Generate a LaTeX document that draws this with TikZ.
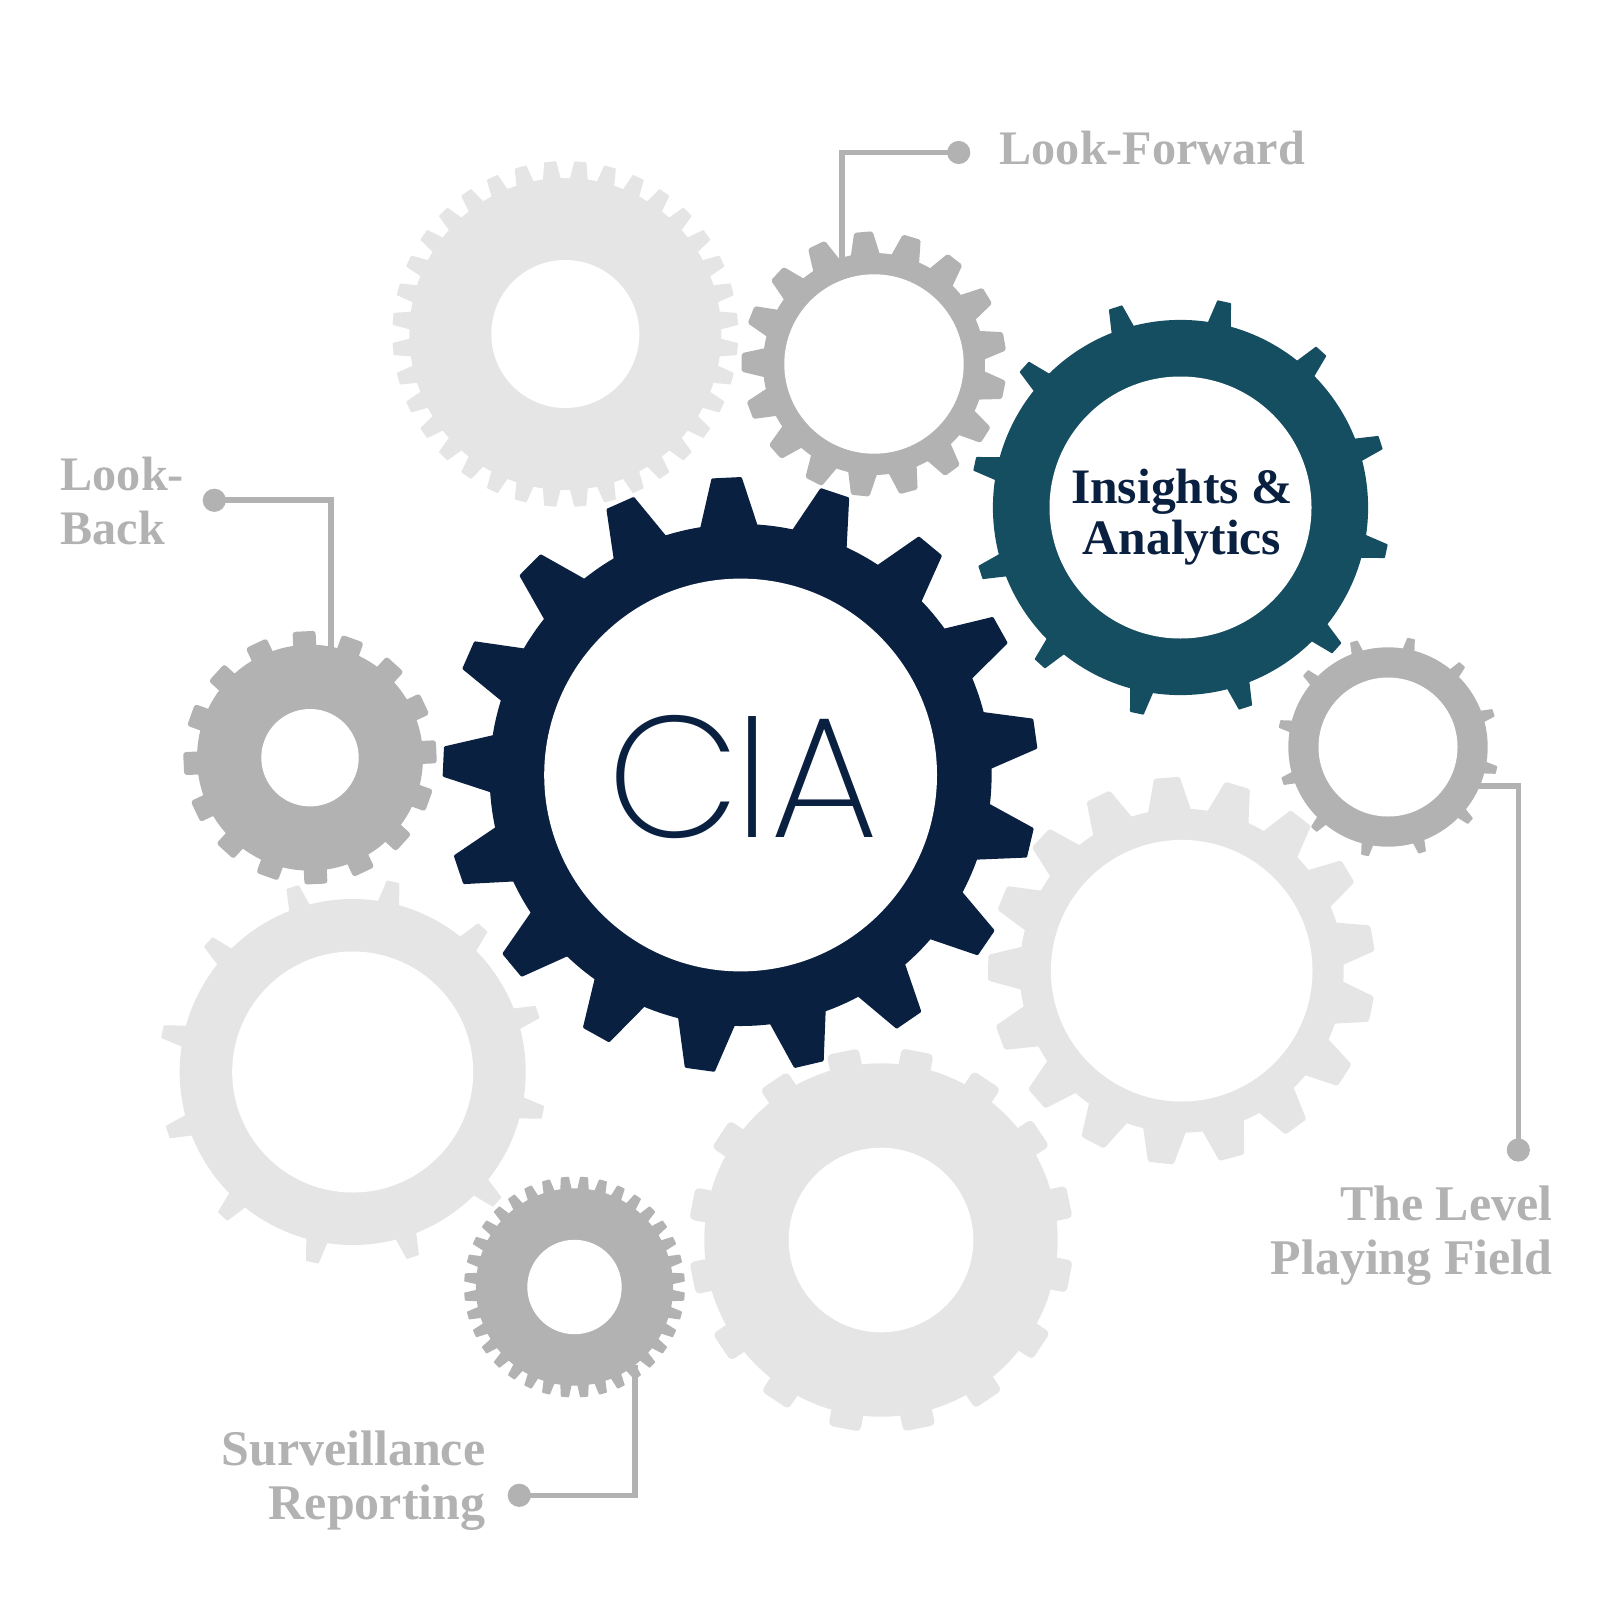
\documentclass[tikz,border=0pt]{standalone}
\usepackage{fontspec}
\setmainfont{Liberation Serif}
\newfontfamily\ciafont[UprightFont=* ExtraLight]{Poppins}
\definecolor{navygear}{HTML}{0A2041}
\definecolor{tealgear}{HTML}{154E60}
\definecolor{midgear}{HTML}{B2B2B2}
\definecolor{lightgear}{HTML}{E5E5E5}
\tikzset{
  hole/.style={circle, fill=white, inner sep=0pt},
  lab/.style={font=\fontsize{13.7}{15.3}\selectfont\bfseries, text=midgear, inner sep=0pt},
  labwide/.style={lab, font=\fontsize{14.2}{15.3}\selectfont\bfseries},
  dot/.style={circle, fill=midgear, inner sep=0pt, outer sep=0pt, minimum size=6.6pt},
  lead/.style={draw=midgear, line width=1.6pt, shorten <=-1pt}
}
\begin{document}
\begin{tikzpicture}[x=0.01cm, y=-0.01cm]
    \useasboundingbox (0,0) rectangle (1600,1600);

    % name/x/y/hole/root/tip/teeth/angle/base half/tip half/corner/colour
    \foreach \gname/\cx/\cy/\rhole/\rroot/\rtip/\nt/\rot/\bh/\tha/\rnd/\col in {
        gearTop/565.3/334/74/156/173/36/85/3.5/2/0.2/lightgear,
        gearLow/352.7/1072/120.5/173/194.6/12/78/3.8/1.9/0.2/lightgear,
        gearRight/1181.7/970.7/130.8/162/194/17/94.4/8/3.8/0.5/lightgear,
        gearBottom/881/1240/92.3/176.7/192.8/16/79/5.4/4.8/1.2/lightgear,
        gearForward/874/364/89.7/111/132.7/17/94.6/8/4/0.5/midgear,
        gearLevel/1388/747/69.5/99.7/111/12/78/3.8/2/0.2/midgear,
        gearBack/310/757.7/48.7/113/127/16/2.7/6/5.2/0.8/midgear,
        gearSurv/574.5/1287/47.2/98.7/110.5/36/85/3.6/2.1/0.2/midgear,
        gearInsights/1180.5/507.5/131/187.6/210.5/12/78/3.8/1.9/0.2/tealgear,
        gearCia/740.6/775/196.4/251/298/17/92.7/6.8/2.9/0.3/navygear}
    {
        \begin{scope}[shift={(\cx,\cy)}]
            \fill[\col] (0,0) circle[radius=\rroot];
            \foreach \k in {1,...,\nt}
            {
                \pgfmathsetmacro\ang{-\rot-\k*360/\nt} % y axis points down
                \fill[\col, rounded corners=\rnd pt]
                    (\ang-\bh:\rroot-3) -- (\ang-\tha:\rtip) -- (\ang+\tha:\rtip)
                    -- (\ang+\bh:\rroot-3) -- cycle;
            }
        \end{scope}
        \node[hole, minimum size={2*\rhole*0.01cm}] (\gname) at (\cx,\cy) {};
    }

    \node[font=\ciafont\fontsize{49}{49}\selectfont, text=navygear, inner sep=0pt] (cia) at (743,777) {C\kern-1.5pt IA};
    \node[font=\fontsize{14.1}{14.5}\selectfont\bfseries, text=navygear, align=center, inner sep=0pt] (insights) at (1182,517) {Insights \&\\Analytics};

    % labels
    \node[lab, anchor=base west] (forwardlab) at (999,165) {Look-Forward};
    \node[lab, anchor=base west, align=left] (backlab) at (60,544) {Look-\\Back};
    \node[labwide, anchor=base east, align=right] (levellab) at (1553,1274) {The Level\\Playing Field};
    \node[labwide, anchor=base east, align=right] (survlab) at (486,1519) {Surveillance\\Reporting};

    % leader lines
    \node[dot] (forwarddot) at (958.7,152.5) {};
    \node[dot] (backdot) at (214.3,500.3) {};
    \node[dot] (leveldot) at (1518.3,1150) {};
    \node[dot] (survdot) at (519.3,1495.3) {};

    \coordinate (forwardend) at (842,262);
    \coordinate (backend) at (331,655);
    \coordinate (levelend) at (1465,786);
    \coordinate (survend) at (635.3,1365);

    \draw[lead] (forwarddot) -| (forwardend);
    \draw[lead] (backdot) -| (backend);
    \draw[lead] (leveldot) |- (levelend);
    \draw[lead] (survdot) -| (survend);
\end{tikzpicture}
\end{document}
